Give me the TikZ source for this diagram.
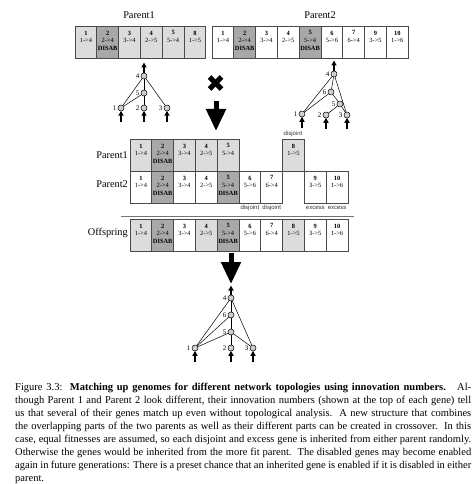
\documentclass[tikz,border=0pt]{standalone}
\usepackage{fontspec}
\setmainfont{Liberation Serif}
\newfontfamily\lsans{Liberation Sans}
\usetikzlibrary{arrows.meta}
\definecolor{glight}{HTML}{DCDCDC}
\definecolor{gdark}{HTML}{A8A8A8}
\definecolor{gborder}{HTML}{4A4A4A}
\definecolor{nfill}{HTML}{CFCFCF}
\tikzset{
  genebox/.style={anchor=north west, minimum width=21.8pt, minimum height=32pt,
    inner sep=0pt, outer sep=0pt, draw=gborder, line width=0.8pt},
  genetxt/.style={anchor=north, align=center, inner sep=0pt,
    font=\fontsize{6.4}{7.6}\selectfont},
  title/.style={font=\fontsize{10.3}{11}\selectfont, inner sep=0pt},
  rowlbl/.style={font=\fontsize{10.3}{11}\selectfont, inner sep=0pt, anchor=east},
  tag/.style={font=\lsans\fontsize{6}{6}\selectfont, text=black!80, inner sep=0pt},
  nnode/.style={circle, draw=black, fill=nfill, line width=0.5pt,
    minimum size=6pt, inner sep=0pt},
  nlbl/.style={font=\fontsize{7}{7}\selectfont, inner sep=0pt, label distance=1.2pt},
  edge/.style={draw=black, line width=0.5pt},
  ioarrow/.style={draw=black, line width=1.3pt, -{Triangle[length=5pt,width=5pt]}, shorten >=-0.5pt},
  bigarrow/.style={draw=black, line width=5pt, -{Triangle[length=22pt,width=19pt]}},
  rulestyle/.style={draw=black!55, line width=1pt},
  capline/.style={anchor=base west, inner sep=0pt, font=\fontsize{10.5}{13}\selectfont},
}
\newcommand\gene[6]{%
  \node[genebox,fill=#4] (#1) at (#2,#3) {};
  \node[genetxt] (#1t) at ([yshift=-4.6pt]#1.north) {\textbf{#5}\\#6};}
\newcommand\dis{\\\textbf{DISAB}}
\newcommand\capl[1]{\spaceskip=0.25em plus 1fil minus 0.15em\relax\hbox to 456pt{#1}}
\begin{document}
\begin{tikzpicture}[x=1pt,y=-1pt]
\useasboundingbox (0,0) rectangle (474,484);
\fill[white] (0,0) rectangle (474,484);
% ---------------- top parent genomes
\node[title] (t1) at (139,15) {Parent1};
\node[title] (t2) at (320,15) {Parent2};
\def\W{21.8}
% Parent1 top
\gene{a1}{75+0*\W}{26}{glight}{1}{1->4}
\gene{a2}{75+1*\W}{26}{gdark}{2}{2->4\dis}
\gene{a3}{75+2*\W}{26}{glight}{3}{3->4}
\gene{a4}{75+3*\W}{26}{glight}{4}{2->5}
\gene{a5}{75+4*\W}{26}{glight}{5}{5->4}
\gene{a8}{75+5*\W}{26}{glight}{8}{1->5}
% Parent2 top
\gene{b1}{212+0*\W}{26}{white}{1}{1->4}
\gene{b2}{212+1*\W}{26}{gdark}{2}{2->4\dis}
\gene{b3}{212+2*\W}{26}{white}{3}{3->4}
\gene{b4}{212+3*\W}{26}{white}{4}{2->5}
\gene{b5}{212+4*\W}{26}{gdark}{5}{5->4\dis}
\gene{b6}{212+5*\W}{26}{white}{6}{5->6}
\gene{b7}{212+6*\W}{26}{white}{7}{6->4}
\gene{b9}{212+7*\W}{26}{white}{9}{3->5}
\gene{b10}{212+8*\W}{26}{white}{10}{1->6}
% ---------------- Parent1 network
\node[nnode,label={[nlbl]left:4}] (p1n4) at (144,76) {};
\node[nnode,label={[nlbl]left:5}] (p1n5) at (144,93) {};
\node[nnode,label={[nlbl]left:1}] (p1n1) at (121,108) {};
\node[nnode,label={[nlbl]left:2}] (p1n2) at (144,108) {};
\node[nnode,label={[nlbl]left:3}] (p1n3) at (167,108) {};
\draw[edge] (p1n1) -- (p1n4);
\draw[edge] (p1n1) -- (p1n5);
\draw[edge] (p1n5) -- (p1n4);
\draw[edge] (p1n2) -- (p1n5);
\draw[edge] (p1n3) -- (p1n4);
\coordinate (p1o) at (144,63);
\coordinate (p1i1) at (121,122);
\coordinate (p1i2) at (144,122);
\coordinate (p1i3) at (167,122);
\draw[ioarrow] (p1n4) -- (p1o);
\draw[ioarrow] (p1i1) -- (p1n1);
\draw[ioarrow] (p1i2) -- (p1n2);
\draw[ioarrow] (p1i3) -- (p1n3);
% ---------------- Parent2 network
\node[nnode,label={[nlbl]left:4}] (p2n4) at (334,74) {};
\node[nnode,label={[nlbl]left:6}] (p2n6) at (331,92) {};
\node[nnode,label={[nlbl]left:5}] (p2n5) at (340,104) {};
\node[nnode,label={[nlbl]left:1}] (p2n1) at (302,114) {};
\node[nnode,label={[nlbl]left:2}] (p2n2) at (326,115) {};
\node[nnode,label={[nlbl]left:3}] (p2n3) at (347,115) {};
\draw[edge] (p2n1) -- (p2n4);
\draw[edge] (p2n1) -- (p2n6);
\draw[edge] (p2n6) -- (p2n4);
\draw[edge] (p2n5) -- (p2n6);
\draw[edge] (p2n2) -- (p2n5);
\draw[edge] (p2n3) -- (p2n5);
\draw[edge] (p2n3) -- (p2n4);
\coordinate (p2o) at (334,61);
\coordinate (p2i1) at (302,128);
\coordinate (p2i2) at (326,129);
\coordinate (p2i3) at (347,129);
\draw[ioarrow] (p2n4) -- (p2o);
\draw[ioarrow] (p2i1) -- (p2n1);
\draw[ioarrow] (p2i2) -- (p2n2);
\draw[ioarrow] (p2i3) -- (p2n3);
% ---------------- cross and arrow
\coordinate (xa) at (209.5,77);
\coordinate (xb) at (221.5,89);
\coordinate (xc) at (221.5,77);
\coordinate (xd) at (209.5,89);
\draw[black, line width=5pt] (xa) -- (xb);
\draw[black, line width=5pt] (xc) -- (xd);
\coordinate (ba1) at (216,101);
\coordinate (ba2) at (216,131);
\draw[bigarrow] (ba1) -- (ba2);
% ---------------- aligned genomes
\node[rowlbl] (l1) at (128,155) {Parent1};
\node[rowlbl] (l2) at (128,184) {Parent2};
\node[rowlbl] (l3) at (128,233) {Offspring};
\gene{c1}{130+0*\W}{139}{glight}{1}{1->4}
\gene{c2}{130+1*\W}{139}{gdark}{2}{2->4\dis}
\gene{c3}{130+2*\W}{139}{glight}{3}{3->4}
\gene{c4}{130+3*\W}{139}{glight}{4}{2->5}
\gene{c5}{130+4*\W}{139}{glight}{5}{5->4}
\gene{c8}{130+7*\W}{139}{glight}{8}{1->5}
\gene{d1}{130+0*\W}{171}{white}{1}{1->4}
\gene{d2}{130+1*\W}{171}{gdark}{2}{2->4\dis}
\gene{d3}{130+2*\W}{171}{white}{3}{3->4}
\gene{d4}{130+3*\W}{171}{white}{4}{2->5}
\gene{d5}{130+4*\W}{171}{gdark}{5}{5->4\dis}
\gene{d6}{130+5*\W}{171}{white}{6}{5->6}
\gene{d7}{130+6*\W}{171}{white}{7}{6->4}
\gene{d9}{130+8*\W}{171}{white}{9}{3->5}
\gene{d10}{130+9*\W}{171}{white}{10}{1->6}
\node[tag] (tg8) at (293,134) {disjoint};
\node[tag] (tg6) at (130+5.5*\W,208) {disjoint};
\node[tag] (tg7) at (130+6.5*\W,208) {disjoint};
\node[tag] (tg9) at (130+8.5*\W,208) {excess};
\node[tag] (tg10) at (130+9.5*\W,208) {excess};
\coordinate (r1) at (121,216);
\coordinate (r2) at (354,216);
\draw[rulestyle] (r1) -- (r2);
% offspring
\gene{e1}{130+0*\W}{219}{glight}{1}{1->4}
\gene{e2}{130+1*\W}{219}{gdark}{2}{2->4\dis}
\gene{e3}{130+2*\W}{219}{white}{3}{3->4}
\gene{e4}{130+3*\W}{219}{glight}{4}{2->5}
\gene{e5}{130+4*\W}{219}{gdark}{5}{5->4\dis}
\gene{e6}{130+5*\W}{219}{white}{6}{5->6}
\gene{e7}{130+6*\W}{219}{white}{7}{6->4}
\gene{e8}{130+7*\W}{219}{glight}{8}{1->5}
\gene{e9}{130+8*\W}{219}{white}{9}{3->5}
\gene{e10}{130+9*\W}{219}{white}{10}{1->6}
\coordinate (bb1) at (231,253);
\coordinate (bb2) at (231,284);
\draw[bigarrow] (bb1) -- (bb2);
% ---------------- offspring network
\node[nnode,label={[nlbl]left:4}] (on4) at (231,298) {};
\node[nnode,label={[nlbl]left:6}] (on6) at (231,315) {};
\node[nnode,label={[nlbl]left:5}] (on5) at (231,332) {};
\node[nnode,label={[nlbl]left:1}] (on1) at (195,348) {};
\node[nnode,label={[nlbl]left:2}] (on2) at (231,348) {};
\node[nnode,label={[nlbl]left:3}] (on3) at (253,348) {};
\draw[edge] (on1) -- (on4);
\draw[edge] (on1) -- (on6);
\draw[edge] (on1) -- (on5);
\draw[edge] (on6) -- (on4);
\draw[edge] (on5) -- (on6);
\draw[edge] (on2) -- (on5);
\draw[edge] (on3) -- (on5);
\draw[edge] (on3) -- (on4);
\coordinate (oo) at (231,286);
\coordinate (oi1) at (195,362);
\coordinate (oi2) at (231,362);
\coordinate (oi3) at (253,362);
\draw[ioarrow] (on4) -- (oo);
\draw[ioarrow] (oi1) -- (on1);
\draw[ioarrow] (oi2) -- (on2);
\draw[ioarrow] (oi3) -- (on3);
% ---------------- caption
\node[capline] (cap1) at (15,390) {\capl{Figure 3.3:\ \ \textbf{Matching up genomes for different network topologies using innovation numbers.}\ \ \ Al-}};
\node[capline] (cap2) at (15,403) {\capl{though Parent 1 and Parent 2 look different, their innovation numbers (shown at the top of each gene) tell}};
\node[capline] (cap3) at (15,416) {\capl{us that several of their genes match up even without topological analysis.\ \ A new structure that combines}};
\node[capline] (cap4) at (15,429) {\capl{the overlapping parts of the two parents as well as their different parts can be created in crossover.\ \ In this}};
\node[capline] (cap5) at (15,442) {\capl{case, equal fitnesses are assumed, so each disjoint and excess gene is inherited from either parent randomly.}};
\node[capline] (cap6) at (15,455) {\capl{Otherwise the genes would be inherited from the more fit parent.\ \ The disabled genes may become enabled}};
\node[capline] (cap7) at (15,468) {\capl{again in future generations: There is a preset chance that an inherited gene is enabled if it is disabled in either}};
\node[capline] (cap8) at (15,481) {parent.};
\end{tikzpicture}
\end{document}
